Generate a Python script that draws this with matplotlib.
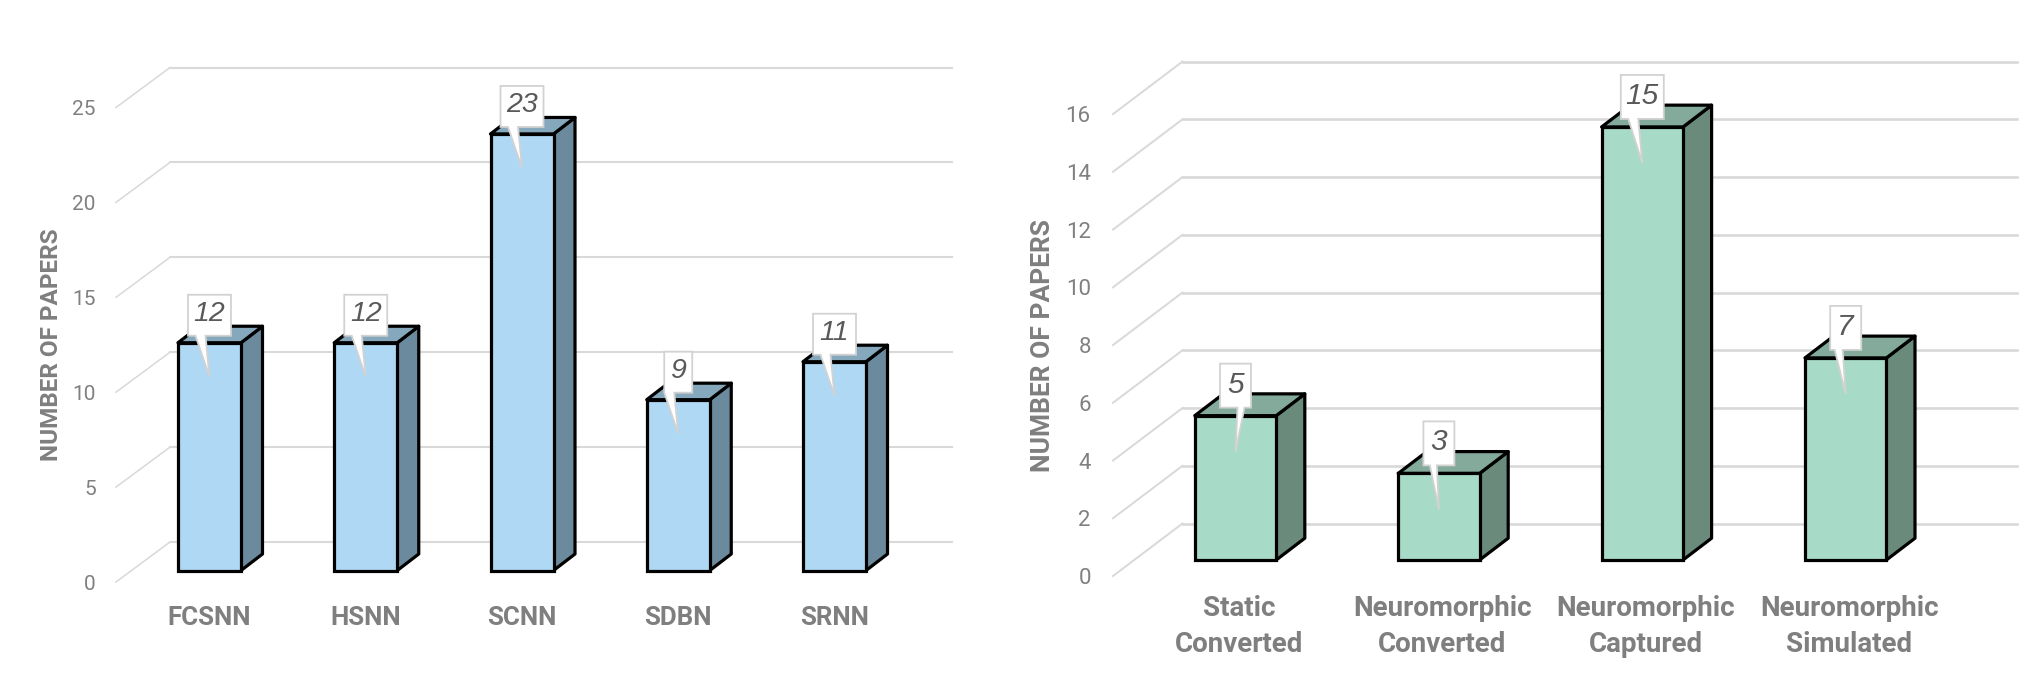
import matplotlib
matplotlib.use('Agg')
import matplotlib.pyplot as plt
from matplotlib.patches import Polygon, Rectangle
from matplotlib.transforms import Affine2D

# data
left_names = ['FCSNN', 'HSNN', 'SCNN', 'SDBN', 'SRNN']
left_papers = [12, 12, 23, 9, 11]
left_ticks = [0, 5, 10, 15, 20, 25]

right_names = ['Static\nConverted', 'Neuromorphic\nConverted', 'Neuromorphic\nCaptured', 'Neuromorphic\nSimulated']
right_papers = [5, 3, 15, 7]
right_ticks = [0, 2, 4, 6, 8, 10, 12, 14, 16]

W, H = 2042, 696
GRID = '#D9D9D9'
fig = plt.figure(figsize=(W / 100, H / 100), dpi=100, facecolor='white')


def draw_chart(names, values, ticks, box, x0, step, unit, wall, depth, lift, bar_w, colors,
               sizes, pads, label_shift, tails, box_h, grid_w, spacing):
    l, t, r, b = box
    ax = fig.add_axes([l / W, 1 - b / H, (r - l) / W, (b - t) / H])
    ax.set_xlim((l - x0) / step, (r - x0) / step)
    ax.set_ylim(0, (b - t) / unit)
    ax.patch.set_visible(False)
    for s in ax.spines.values():
        s.set_visible(False)

    # walls and gridlines
    xl = (l - x0) / step
    xr = (r - x0) / step
    wx = wall[0] / step
    wy = wall[1] / unit
    for v in ticks:
        ax.plot([xl, xl + wx], [v, v + wy], color=GRID, lw=grid_w * 0.75, zorder=1, clip_on=False)
        ax.plot([xl + wx, xr], [v + wy, v + wy], color=GRID, lw=grid_w, zorder=1, clip_on=False)

    # 3d bars
    xs = list(range(len(values)))
    dx = depth[0] / step
    dy = depth[1] / unit
    base = lift / unit
    hw = bar_w / step / 2
    for x, v in zip(xs, values):
        top = base + v
        ax.add_patch(Polygon([(x + hw, base), (x + hw + dx, base + dy), (x + hw + dx, top + dy), (x + hw, top)],
                             fc=colors[2], ec='black', lw=2.3, joinstyle='round', zorder=3))
        ax.add_patch(Polygon([(x - hw, top), (x - hw + dx, top + dy), (x + hw + dx, top + dy), (x + hw, top)],
                             fc=colors[1], ec='black', lw=2.3, joinstyle='round', zorder=3))
        ax.add_patch(Rectangle((x - hw, base), 2 * hw, v, fc=colors[0], ec='black', lw=2.3,
                               joinstyle='miter', zorder=4))

    # callouts
    for x, v, tail in zip(xs, values, tails):
        px, py = ax.transData.transform((x, base + v))
        txt = str(v)
        half = 21.5 if len(txt) > 1 else sizes[3]
        gap, tip = sizes[4], sizes[5]
        shape = [(-half, -gap - box_h), (half, -gap - box_h), (half, -gap),
                 (tail[1], -gap), (0, tip), (tail[0], -gap), (-half, -gap)]
        shape = [(a, -c) for a, c in shape]
        tr = Affine2D().translate(px, py)
        ax.add_patch(Polygon(shape, closed=True, fc='white', ec='#D2D2D2', lw=1.3, joinstyle='miter',
                             transform=tr, zorder=5))
        ax.annotate(txt, (x, base + v), xytext=(0, (gap + box_h / 2 + 1) * 0.72),
                    textcoords='offset points', ha='center', va='center', fontsize=sizes[2],
                    family='Liberation Sans', style='italic', color='#595959', zorder=6)

    ax.set_yticks(ticks)
    ax.set_yticklabels([str(v) for v in ticks], family='Roboto', fontsize=sizes[0], color='#808080')
    ax.set_xticks([x + label_shift / step for x in xs])
    ax.set_xticklabels(names, family='Roboto', fontweight='bold', fontsize=sizes[1], color='#7F7F7F',
                       linespacing=spacing)
    ax.tick_params(axis='y', length=0, pad=pads[0])
    ax.tick_params(axis='x', length=0, pad=pads[1])
    return ax


draw_chart(left_names, left_papers, left_ticks, box=(116, 67.5, 952, 582), x0=209.5, step=156.25, unit=18.98,
           wall=(54, 40), depth=(21.5, 16.5), lift=11.5, bar_w=63,
           colors=('#AED8F4', '#86A8BD', '#6C8A9E'),
           sizes=(15, 18.6, 20.5, 14, 7, 34), pads=(14.5, 17), label_shift=0,
           tails=[(-14, -4)] * 5, box_h=41, grid_w=1.5, spacing=1.35)
fig.text(51 / W, 1 - 345 / H, 'NUMBER OF PAPERS', rotation=90, ha='center', va='center',
         family='Roboto', fontweight='bold', fontsize=17.5, color='#7F7F7F')

draw_chart(right_names, right_papers, right_ticks, box=(1113, 61, 2017, 576), x0=1235.5, step=203.4, unit=28.87,
           wall=(69.5, 52.5), depth=(28.6, 21.8), lift=16, bar_w=81.4,
           colors=('#A8DAC8', '#83AA9B', '#6A8A7C'),
           sizes=(16, 20, 21.5, 15.5, 8, 36), pads=(16, 13.5), label_shift=3.5,
           tails=[(2, 9), (-9, -2), (-14, -4), (-11, -3)], box_h=44, grid_w=1.9, spacing=1.42)
fig.text(1042.5 / W, 1 - 345 / H, 'NUMBER OF PAPERS', rotation=90, ha='center', va='center',
         family='Roboto', fontweight='bold', fontsize=19, color='#7F7F7F')

fig.savefig('out.png', dpi=100)
